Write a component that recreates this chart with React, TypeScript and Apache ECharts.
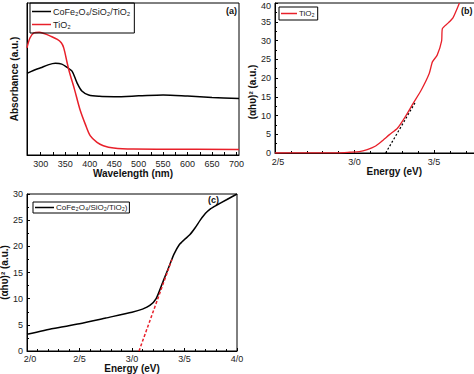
import React, { useEffect, useRef } from 'react';
import * as echarts from 'echarts';

// ---------- data ----------
// Panel (a): absorbance (arbitrary units) vs wavelength (nm)
const aCompositeWl = [272, 285, 300, 315, 330, 343, 354, 364, 374, 384, 398, 420, 450, 500, 550, 600, 650, 705];
const aCompositeAbs = [0.537, 0.556, 0.574, 0.593, 0.603, 0.598, 0.576, 0.552, 0.476, 0.421, 0.395, 0.386, 0.384, 0.389, 0.395, 0.388, 0.379, 0.372];
const aTiO2Wl = [272, 278, 286, 297, 307, 320, 334, 342, 347, 354, 359, 369, 380, 391, 401, 415, 428, 449, 489, 550, 705];
const aTiO2Abs = [0.705, 0.77, 0.803, 0.808, 0.799, 0.782, 0.76, 0.738, 0.705, 0.607, 0.541, 0.432, 0.301, 0.203, 0.127, 0.083, 0.061, 0.046, 0.039, 0.038, 0.037];
const aTickValues = [300, 325, 350, 375, 400, 425, 450, 475, 500, 525, 550, 575, 600, 625, 650, 675, 700];
const aLabelValues = [300, 350, 400, 450, 500, 550, 600, 650, 700];

// Panel (b): Tauc plot of TiO2
const bEnergy = [2.5, 2.7, 2.9, 2.97, 3.03, 3.08, 3.13, 3.17, 3.22, 3.27, 3.32, 3.37, 3.42, 3.47, 3.49, 3.52, 3.548, 3.553, 3.59, 3.62, 3.66];
const bValue = [0.0, 0.02, 0.05, 0.2, 0.35, 0.9, 1.8, 3.1, 4.9, 6.6, 9.7, 13.3, 16.8, 21.2, 24.3, 26.1, 29.9, 33.2, 34.7, 36.1, 40];
const bTangentEnergy = [3.196, 3.385];
const bTangentValue = [0, 13.7];
const bLabelValues = [2.5, 3.0, 3.5];

// Panel (c): Tauc plot of CoFe2O4/SiO2/TiO2
const cEnergy = [2.0, 2.25, 2.5, 2.75, 3.0, 3.1, 3.17, 3.23, 3.3, 3.35, 3.4, 3.45, 3.5, 3.55, 3.6, 3.65, 3.7, 3.75, 3.8, 3.9, 4.0];
const cValue = [3.2, 4.3, 5.2, 6.3, 7.4, 8.0, 8.7, 10.0, 13.5, 16.0, 18.5, 20.3, 21.3, 22.2, 23.5, 25.0, 26.3, 27.2, 27.8, 28.9, 30.0];
const cTangentEnergy = [3.067, 3.38];
const cTangentValue = [0, 17.5];
const cLabelValues = [2.0, 2.5, 3.0, 3.5, 4.0];

const NAME_COMPOSITE = 'CoFe₂O₄/SiO₂/TiO₂';
const NAME_COMPOSITE_C = 'CoFe₂O₄/SiO₂/TiO₂)';
const NAME_TIO2 = 'TiO₂';

const zip = (xs: number[], ys: number[]) => xs.map((x, i) => [x, ys[i]]);

const FONT = '"Liberation Sans", Arial, Helvetica, sans-serif';
const TXT = '#222';
const RED = '#e8202a';

const energyFmt = (v: number) => v.toFixed(1).replace('.', '/');
const near = (arr: number[], v: number) => arr.some((a) => Math.abs(a - v) < 1e-6);

export default function App() {
  const ref = useRef<HTMLDivElement>(null);

  useEffect(() => {
    if (!ref.current) return;
    const chart = echarts.init(ref.current, undefined, { renderer: 'svg' });

    const axisLine = { show: true, lineStyle: { color: '#000', width: 1 } };
    const labelStyle = { fontFamily: FONT, fontSize: 9, color: TXT };
    const nameStyle = { fontFamily: FONT, fontSize: 10, fontWeight: 'bold' as const, color: '#111' };
    const gridBase = { show: true, borderColor: '#000', borderWidth: 1, containLabel: false, outerBoundsMode: 'none' };
    const richFirst = { first: { fontFamily: FONT, fontSize: 9, color: TXT, padding: [0, 0, 0, 6] } };

    const option: any = {
      animation: false,
      backgroundColor: '#fff',
      textStyle: { fontFamily: FONT },
      grid: [
        { ...gridBase, left: 27, top: 3, width: 212, height: 152 },
        { ...gridBase, left: 275, top: 3, width: 238.5, height: 150 },
        { ...gridBase, left: 27, top: 194, width: 210, height: 157 },
      ],
      xAxis: [
        {
          gridIndex: 0, type: 'value', min: 272, max: 705,
          name: 'Wavelength (nm)', nameLocation: 'middle', nameGap: 12, nameTextStyle: nameStyle,
          axisLine,
          axisTick: { show: true, inside: true, length: 3, customValues: aTickValues, lineStyle: { color: '#000' } },
          axisLabel: { ...labelStyle, margin: 4, customValues: aLabelValues },
          splitLine: { show: false },
        },
        {
          gridIndex: 1, type: 'value', min: 2.5, max: 4.0, interval: 0.5,
          name: 'Energy (eV)', nameLocation: 'middle', nameGap: 13, nameTextStyle: nameStyle,
          axisLine,
          axisTick: { show: true, inside: true, length: 3, lineStyle: { color: '#000' } },
          minorTick: { show: true, splitNumber: 5, length: 2, lineStyle: { color: '#000' } },
          axisLabel: {
            ...labelStyle, margin: 4, rich: richFirst,
            formatter: (v: number) => {
              if (!near(bLabelValues, v)) return '';
              return Math.abs(v - bLabelValues[0]) < 1e-6 ? `{first|${energyFmt(v)}}` : energyFmt(v);
            },
          },
          splitLine: { show: false },
        },
        {
          gridIndex: 2, type: 'value', min: 2.0, max: 4.0, interval: 0.5,
          name: 'Energy (eV)', nameLocation: 'middle', nameGap: 10, nameTextStyle: nameStyle,
          axisLine,
          axisTick: { show: true, inside: true, length: 3, lineStyle: { color: '#000' } },
          minorTick: { show: true, splitNumber: 5, length: 2, lineStyle: { color: '#000' } },
          axisLabel: {
            ...labelStyle, margin: 3, rich: richFirst,
            formatter: (v: number) => {
              if (!near(cLabelValues, v)) return '';
              return Math.abs(v - cLabelValues[0]) < 1e-6 ? `{first|${energyFmt(v)}}` : energyFmt(v);
            },
          },
          splitLine: { show: false },
        },
      ],
      yAxis: [
        {
          gridIndex: 0, type: 'value', min: 0, max: 1,
          name: 'Absorbance (a.u.)', nameLocation: 'middle', nameGap: 8, nameTextStyle: nameStyle,
          axisLine, axisTick: { show: false }, axisLabel: { show: false }, splitLine: { show: false },
        },
        {
          gridIndex: 1, type: 'value', min: 0, max: 40, interval: 5,
          axisLine,
          axisTick: { show: true, inside: true, length: 3, lineStyle: { color: '#000' } },
          minorTick: { show: true, splitNumber: 2, length: 2, lineStyle: { color: '#000' } },
          axisLabel: {
            ...labelStyle, margin: 4,
            rich: { top: { fontFamily: FONT, fontSize: 9, color: TXT, padding: [5, 0, 0, 0] } },
            formatter: (v: number) => (v === 40 ? `{top|${v}}` : `${v}`),
          },
          splitLine: { show: false },
        },
        {
          gridIndex: 2, type: 'value', min: 0, max: 30, interval: 5,
          name: '(αhυ)² (a.u.)', nameLocation: 'middle', nameGap: 16, nameTextStyle: nameStyle,
          axisLine,
          axisTick: { show: true, inside: true, length: 3, lineStyle: { color: '#000' } },
          minorTick: { show: true, splitNumber: 2, length: 2, lineStyle: { color: '#000' } },
          axisLabel: { ...labelStyle, margin: 4 },
          splitLine: { show: false },
        },
      ],
      legend: [
        {
          data: [NAME_COMPOSITE, NAME_TIO2],
          orient: 'vertical', left: 30, top: 3, itemGap: 2, itemWidth: 19, itemHeight: 1.5, icon: 'rect',
          padding: [3, 4, 3, 2], borderColor: '#000', borderWidth: 1, selectedMode: false,
          textStyle: { fontFamily: FONT, fontSize: 9, color: TXT, lineHeight: 11, padding: [0, 0, 0, -3] },
        },
        {
          data: [NAME_TIO2],
          orient: 'vertical', left: 279, top: 7, itemWidth: 16, itemHeight: 1.5, icon: 'rect',
          padding: [1, 3, 1, 2], borderColor: '#000', borderWidth: 1, selectedMode: false,
          textStyle: { fontFamily: FONT, fontSize: 8, color: TXT, lineHeight: 11, padding: [0, 0, 0, -3] },
        },
        {
          data: [NAME_COMPOSITE_C],
          orient: 'vertical', left: 33, top: 202, itemWidth: 19, itemHeight: 1.5, icon: 'rect',
          padding: [0, 2, 0, 2], borderColor: '#000', borderWidth: 1, selectedMode: false,
          textStyle: { fontFamily: FONT, fontSize: 8, color: TXT, lineHeight: 11, padding: [0, 0, 0, -3] },
        },
      ],
      graphic: [
        { type: 'text', left: 226, top: 6, style: { text: '(a)', font: `bold 9px ${FONT}`, fill: '#111' } },
        { type: 'text', left: 461, top: 6, style: { text: '(b)', font: `bold 9px ${FONT}`, fill: '#111' } },
        { type: 'text', left: 208, top: 195, style: { text: '(c)', font: `bold 9px ${FONT}`, fill: '#111' } },
        {
          type: 'text', x: 252, y: 92, rotation: Math.PI / 2,
          style: { text: '(αhυ)² (a.u.)', font: `bold 10px ${FONT}`, fill: '#111', align: 'center', verticalAlign: 'middle' },
        },
      ],
      series: [
        {
          name: NAME_COMPOSITE, type: 'line', xAxisIndex: 0, yAxisIndex: 0, data: zip(aCompositeWl, aCompositeAbs),
          showSymbol: false, symbol: 'none', smooth: 0.3, lineStyle: { color: '#000', width: 1.5 }, itemStyle: { color: '#000' },
        },
        {
          name: NAME_TIO2, type: 'line', xAxisIndex: 0, yAxisIndex: 0, data: zip(aTiO2Wl, aTiO2Abs),
          showSymbol: false, symbol: 'none', smooth: 0.3, lineStyle: { color: RED, width: 1.5 }, itemStyle: { color: RED },
        },
        {
          name: NAME_TIO2, type: 'line', xAxisIndex: 1, yAxisIndex: 1, data: zip(bEnergy, bValue),
          showSymbol: false, symbol: 'none', smooth: 0.2, lineStyle: { color: RED, width: 1.3 }, itemStyle: { color: RED },
        },
        {
          name: 'tangent-b', type: 'line', xAxisIndex: 1, yAxisIndex: 1, data: zip(bTangentEnergy, bTangentValue),
          showSymbol: false, symbol: 'none', lineStyle: { color: '#000', width: 1.2, type: [2, 2] },
        },
        {
          name: NAME_COMPOSITE_C, type: 'line', xAxisIndex: 2, yAxisIndex: 2, data: zip(cEnergy, cValue),
          showSymbol: false, symbol: 'none', smooth: 0.2, lineStyle: { color: '#000', width: 1.5 }, itemStyle: { color: '#000' },
        },
        {
          name: 'tangent-c', type: 'line', xAxisIndex: 2, yAxisIndex: 2, data: zip(cTangentEnergy, cTangentValue),
          showSymbol: false, symbol: 'none', lineStyle: { color: RED, width: 1.5, type: [3, 2] },
        },
      ],
    };

    chart.setOption(option);
    return () => chart.dispose();
  }, []);

  return (
    <div
      ref={ref}
      style={{ position: 'fixed', left: 0, top: 0, width: 474, height: 374, background: '#fff', overflow: 'hidden' }}
    />
  );
}
